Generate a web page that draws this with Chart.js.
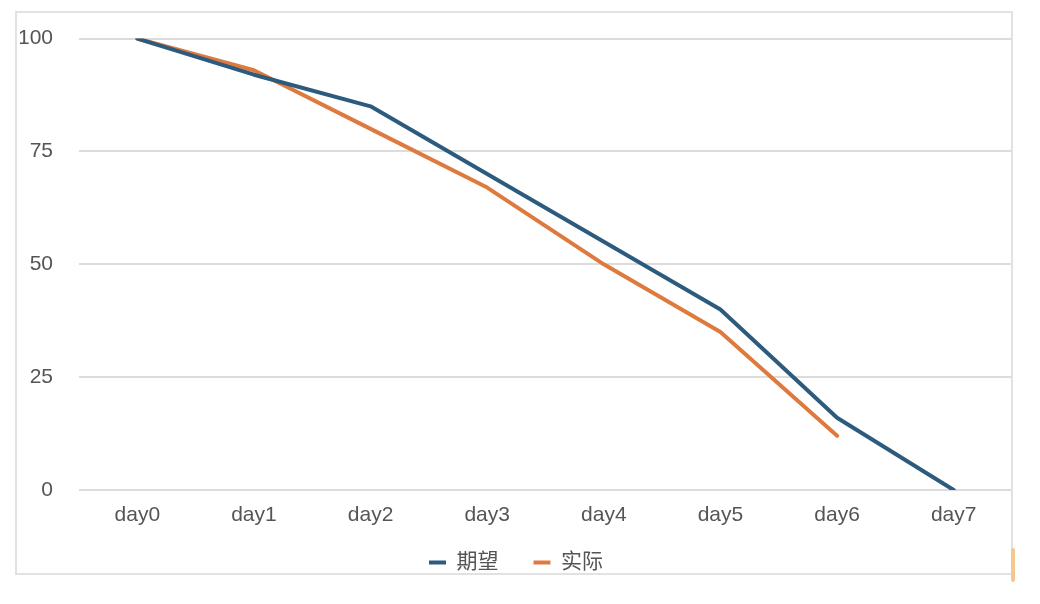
<!DOCTYPE html>
<html lang="zh">
<head>
    <meta charset="UTF-8">
    <title>燃尽图</title>
    <script src="https://cdn.jsdelivr.net/npm/chart.js"></script>
    <style>
        html, body { margin: 0; padding: 0; background: #fff; }
        body { width: 1040px; height: 604px; position: relative; overflow: hidden; }
        #wrap { position: absolute; left: 0; top: 0; width: 1040px; height: 604px; }
        .frame {
            position: absolute; left: 15px; top: 11px; width: 994px; height: 560px;
            border: 2px solid #e2e2e2; pointer-events: none;
        }
        .handle {
            position: absolute; left: 1011px; top: 548px; width: 4px; height: 34px;
            background: #f6c78f; border-radius: 2px;
        }
    </style>
    <script>
        // categories and series values
        const days = ['day0', 'day1', 'day2', 'day3', 'day4', 'day5', 'day6', 'day7'];
        const expected = [100, 92, 85, 70, 55, 40, 16, 0];
        const actual = [100, 93, 80, 67, 50, 35, 12];
        const yTicks = [0, 25, 50, 75, 100];

        const FONT = '"Liberation Sans", Arial, "Noto Sans CJK SC", sans-serif';
        const TEXT = '#555555';

        document.addEventListener('DOMContentLoaded', () => {
            new Chart(document.getElementById('burn'), {
                type: 'line',
                data: {
                    labels: days,
                    datasets: [
                        { label: '期望', data: expected, borderColor: '#2c5b7e', backgroundColor: '#2c5b7e' },
                        { label: '实际', data: actual, borderColor: '#df7a3f', backgroundColor: '#df7a3f' }
                    ]
                },
                options: {
                    responsive: false,
                    animation: false,
                    layout: { padding: { left: 20, right: 28, top: 26, bottom: 21 } },
                    elements: {
                        line: { borderWidth: 4, tension: 0, borderCapStyle: 'round', borderJoinStyle: 'round' },
                        point: { radius: 0, hoverRadius: 0 }
                    },
                    scales: {
                        x: {
                            offset: true,
                            grid: { display: false },
                            border: { display: false },
                            // mirror stops the labels being clipped to the shortened axis box,
                            // negative padding pushes them back below the axis
                            ticks: { color: TEXT, font: { family: FONT, size: 21 }, padding: -38, mirror: true, autoSkip: false, maxRotation: 0 },
                            afterFit: axis => { axis.height = 27; }
                        },
                        y: {
                            min: 0, max: 100,
                            afterBuildTicks: axis => { axis.ticks = yTicks.map(v => ({ value: v })); },
                            grid: { color: '#dcdcdc', lineWidth: 2, drawTicks: false },
                            border: { display: false },
                            ticks: { color: TEXT, font: { family: FONT, size: 21 }, padding: 26 },
                            afterFit: axis => { axis.width = 59; }
                        }
                    },
                    plugins: {
                        tooltip: { enabled: false },
                        legend: {
                            position: 'bottom',
                            labels: {
                                color: TEXT,
                                font: { family: FONT, size: 21 },
                                boxWidth: 17,
                                boxHeight: 4,
                                padding: 35,
                                generateLabels: chart => Chart.defaults.plugins.legend.labels.generateLabels(chart)
                                    .map(item => Object.assign(item, { lineWidth: 0 }))
                            }
                        }
                    }
                }
            });
        });
    </script>
</head>
<body>
    <div id="wrap"><canvas id="burn" width="1040" height="604"></canvas></div>
    <div class="frame"></div>
    <div class="handle"></div>
</body>
</html>
